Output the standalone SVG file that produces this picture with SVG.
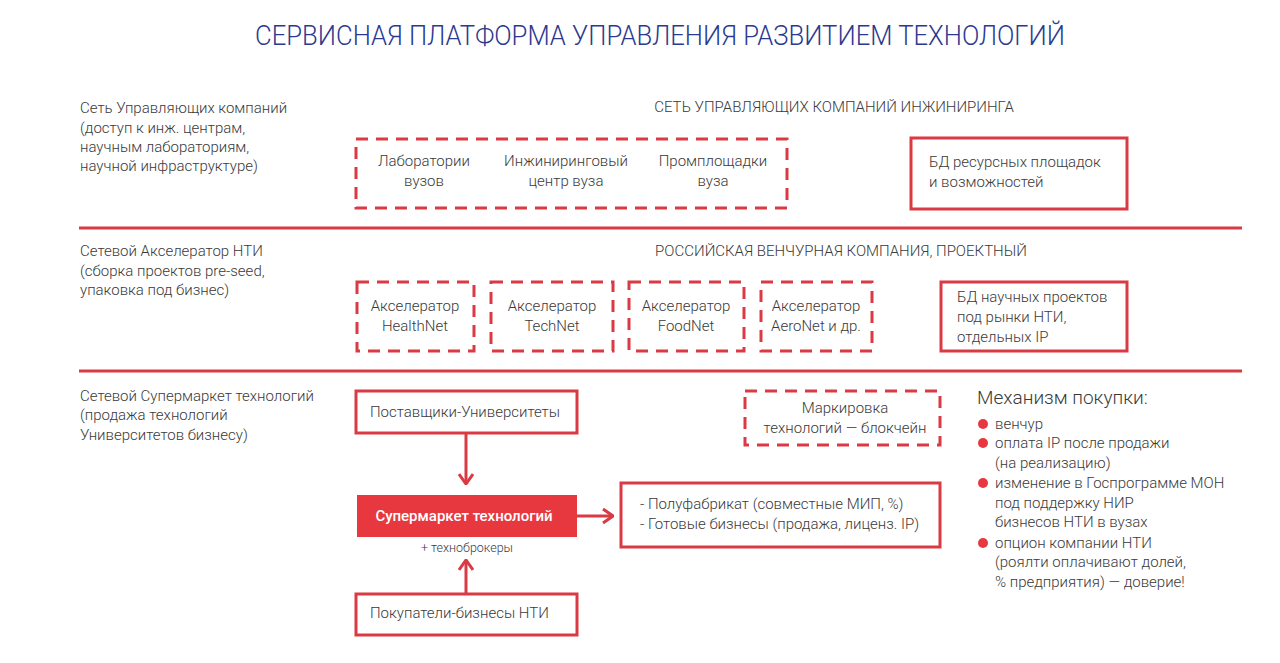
<svg xmlns="http://www.w3.org/2000/svg" width="1280" height="663" viewBox="0 0 1280 663">
<style>
text{font-family:Roboto,"Liberation Sans",sans-serif;font-weight:300;fill:#3a3a3a;font-size:15px}
.t{font-size:27px;fill:#2b3a8f;font-weight:300}
.h{font-size:15px}
.c{text-anchor:middle}
.dash{fill:none;stroke:#d93a44;stroke-width:3;stroke-dasharray:12 8}
.box{fill:none;stroke:#d93a44;stroke-width:3}
.sep{stroke:#d93a44;stroke-width:3}
.con{stroke:#d93a44;stroke-width:3;fill:none}
.dot{fill:#e8383f}
.w{fill:#fff;font-weight:500}
.s{font-size:12.5px}
.m{font-size:19px}
</style>
<defs>
<marker id="arr" viewBox="0 0 12 16" refX="11" refY="8" markerWidth="12" markerHeight="16" markerUnits="userSpaceOnUse" orient="auto">
<path d="M1,1 L11,8 L1,15" fill="none" stroke="#d93a44" stroke-width="3"/>
</marker>
</defs>
<rect width="1280" height="663" fill="#fff"/>
<text class="t c" x="660" y="45" textLength="810" lengthAdjust="spacingAndGlyphs">СЕРВИСНАЯ ПЛАТФОРМА УПРАВЛЕНИЯ РАЗВИТИЕМ ТЕХНОЛОГИЙ</text>

<g id="separators">
<line class="sep" x1="79" y1="228" x2="1242" y2="228"/>
<line class="sep" x1="79" y1="371" x2="1242" y2="371"/>
</g>

<g id="row1-label">
<text x="80" y="113">Сеть Управляющих компаний</text>
<text x="80" y="133">(доступ к инж. центрам,</text>
<text x="80" y="152">научным лабораториям,</text>
<text x="80" y="171">научной инфраструктуре)</text>
</g>
<g id="row1-header"><text class="h c" x="834" y="112">СЕТЬ УПРАВЛЯЮЩИХ КОМПАНИЙ ИНЖИНИРИНГА</text></g>
<g id="uni-units">
<rect class="dash" x="356" y="139" width="431" height="69"/>
<text class="c" x="424" y="166">Лаборатории</text>
<text class="c" x="424" y="186">вузов</text>
<text class="c" x="566" y="166">Инжиниринговый</text>
<text class="c" x="566" y="186">центр вуза</text>
<text class="c" x="713" y="166">Промплощадки</text>
<text class="c" x="713" y="186">вуза</text>
</g>
<g id="db-resources">
<rect class="box" x="911" y="138" width="216" height="71"/>
<text x="929" y="167">БД ресурсных площадок</text>
<text x="929" y="187">и возможностей</text>
</g>

<g id="row2-label">
<text x="80" y="256">Сетевой Акселератор НТИ</text>
<text x="80" y="276">(сборка проектов pre-seed,</text>
<text x="80" y="295">упаковка под бизнес)</text>
</g>
<g id="row2-header"><text class="h c" x="841" y="256">РОССИЙСКАЯ ВЕНЧУРНАЯ КОМПАНИЯ, ПРОЕКТНЫЙ</text></g>
<g id="acc-health">
<rect class="dash" x="357" y="282" width="117" height="69"/>
<text class="c" x="415" y="311">Акселератор</text>
<text class="c" x="415" y="331">HealthNet</text>
</g>
<g id="acc-tech">
<rect class="dash" x="491" y="282" width="122" height="69"/>
<text class="c" x="552" y="311">Акселератор</text>
<text class="c" x="552" y="331">TechNet</text>
</g>
<g id="acc-food">
<rect class="dash" x="629" y="282" width="115" height="69"/>
<text class="c" x="686" y="311">Акселератор</text>
<text class="c" x="686" y="331">FoodNet</text>
</g>
<g id="acc-aero">
<rect class="dash" x="761" y="282" width="111" height="69"/>
<text class="c" x="816" y="311">Акселератор</text>
<text class="c" x="816" y="331">AeroNet и др.</text>
</g>
<g id="db-projects">
<rect class="box" x="941" y="282" width="186" height="69"/>
<text x="957" y="302">БД научных проектов</text>
<text x="957" y="322">под рынки НТИ,</text>
<text x="957" y="342">отдельных IP</text>
</g>

<g id="row3-label">
<text x="80" y="401">Сетевой Супермаркет технологий</text>
<text x="80" y="420">(продажа технологий</text>
<text x="80" y="440">Университетов бизнесу)</text>
</g>
<g id="suppliers">
<rect class="box" x="356" y="391" width="221" height="42"/>
<text x="370" y="417">Поставщики-Университеты</text>
</g>
<g id="supermarket">
<rect x="357" y="495" width="220" height="42" fill="#e8383f"/>
<text class="w c" x="464" y="521" font-size="14.5">Супермаркет технологий</text>
<text class="s c" x="467" y="552">+ техноброкеры</text>
</g>
<g id="buyers">
<rect class="box" x="356" y="594" width="221" height="41"/>
<text x="370" y="618">Покупатели-бизнесы НТИ</text>
</g>
<g id="results">
<rect class="box" x="621" y="483" width="319" height="64"/>
<text x="640" y="509">- Полуфабрикат (совместные МИП, %)</text>
<text x="640" y="529">- Готовые бизнесы (продажа, лиценз. IP)</text>
</g>
<g id="blockchain">
<rect class="dash" x="745" y="391" width="195" height="54"/>
<text class="c" x="845" y="413">Маркировка</text>
<text class="c" x="845" y="433" font-size="15.5">технологий — блокчейн</text>
</g>
<g id="mechanism">
<text class="m" x="977" y="404">Механизм покупки:</text>
<circle class="dot" cx="983" cy="424" r="5"/>
<circle class="dot" cx="983" cy="443" r="5"/>
<circle class="dot" cx="983" cy="483" r="5"/>
<circle class="dot" cx="983" cy="543" r="5"/>
<text x="995" y="429">венчур</text>
<text x="995" y="448">оплата IP после продажи</text>
<text x="995" y="468">(на реализацию)</text>
<text x="995" y="488">изменение в Госпрограмме МОН</text>
<text x="995" y="508">под поддержку НИР</text>
<text x="995" y="527">бизнесов НТИ в вузах</text>
<text x="995" y="548">опцион компании НТИ</text>
<text x="995" y="567">(роялти оплачивают долей,</text>
<text x="995" y="587">% предприятия) — доверие!</text>
</g>

<g id="connectors">
<line class="con" x1="466" y1="433" x2="466" y2="484" marker-end="url(#arr)"/>
<line class="con" x1="466" y1="594" x2="466" y2="560" marker-end="url(#arr)"/>
<line class="con" x1="577" y1="516" x2="613" y2="516" marker-end="url(#arr)"/>
</g>
</svg>
